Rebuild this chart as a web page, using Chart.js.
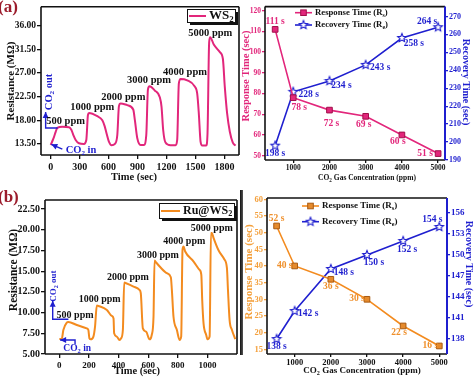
<!DOCTYPE html>
<html>
<head>
<meta charset="utf-8">
<script src="https://cdn.jsdelivr.net/npm/chart.js"></script>
<style>
  body { margin: 0; background: #fff; width: 474px; height: 377px; overflow: hidden; position: relative; }
  canvas { position: absolute; }
  .tag { position: absolute; font: bold 17px "Liberation Serif", serif; color: #9b1b2b; }
  .strip { position: absolute; left: 240px; top: 190px; width: 3px; height: 165px; background: linear-gradient(90deg, #111, #555); }
</style>
</head>
<body>
<canvas id="wsCurve" width="240" height="190" style="left:0;top:0"></canvas>
<canvas id="wsTimes" width="234" height="190" style="left:240px;top:0"></canvas>
<canvas id="ruCurve" width="240" height="187" style="left:0;top:190px"></canvas>
<canvas id="ruTimes" width="234" height="187" style="left:240px;top:190px"></canvas>
<div class="strip"></div>
<div class="tag" style="left:-2px;top:-3px">(a)</div>
<div class="tag" style="left:-2px;top:187px">(b)</div>
<script>
// ---- data ----
const wsTime = [0, 28, 52, 69, 121, 190, 214, 235, 259, 293, 345, 369, 386, 397, 483, 535, 559, 579, 603, 631,
  665, 690, 707, 724, 793, 855, 872, 897, 931, 965, 990, 1007, 1024, 1076, 1131, 1148, 1165, 1189, 1241, 1293,
  1310, 1327, 1345, 1414, 1490, 1517, 1534, 1552, 1569, 1610, 1624, 1641, 1652, 1689, 1752, 1783, 1803, 1827, 1855, 1886, 1914];
const wsRes = [13.3, 14.5, 15.8, 16.56, 16.77, 16.66, 16.2, 15.2, 14.26, 13.63, 13.5, 14.26, 19.0, 19.4, 18.78, 18.02, 16.9, 15.5, 13.94, 13.25,
  13.5, 15.2, 20.7, 21.2, 20.88, 20.06, 18.04, 14.57, 13.31, 13.31, 15.2, 23.84, 24.47, 23.7, 22.33, 20.56, 16.15, 13.76, 13.25, 13.25,
  14.26, 24.97, 25.86, 25.6, 24.47, 23.1, 19.3, 13.94, 13.19, 13.19, 15.5, 32.85, 33.8, 32.4, 30.95, 29.7, 24.34, 19.3, 15.83, 13.76, 13.19];

const ruTime = [0, 16, 27, 50, 61, 118, 185, 196, 203, 212, 230, 241, 253, 264, 321, 354, 366, 370, 388, 406,
  417, 429, 438, 451, 501, 541, 550, 564, 586, 609, 624, 636, 643, 654, 681, 726, 753, 760, 771, 794,
  812, 823, 832, 839, 850, 907, 947, 959, 965, 974, 992, 1001, 1015, 1024, 1031, 1042, 1076, 1114, 1132, 1139, 1150, 1166, 1188];
const ruRes = [6.8, 6.8, 7.9, 8.79, 8.87, 8.5, 8.1, 7.9, 6.9, 6.77, 7.1, 8.3, 10.85, 10.8, 10.32, 9.6, 9.3, 7.5, 7.1, 6.7,
  6.9, 7.9, 13.63, 13.55, 13.15, 12.74, 12.34, 8.1, 7.7, 6.77, 7.3, 9.5, 16.3, 16.05, 15.5, 14.76, 14.27, 12.74, 9.5, 7.9,
  6.7, 7.1, 17.6, 17.98, 17.38, 16.17, 15.16, 14.56, 11.53, 8.7, 7.3, 6.77, 7.1, 19.6, 19.6, 19.0, 17.5, 16.45, 15.36, 12.74, 9.1, 7.9, 6.8];

const concs = [500, 1000, 2000, 3000, 4000, 5000];
const wsResponse = [111, 78, 72, 69, 60, 51];
const wsRecovery = [198, 228, 234, 243, 258, 264];
const ruResponse = [52, 40, 36, 30, 22, 16];
const ruRecovery = [138, 142, 148, 150, 152, 154];

const ppmLabels = ['500 ppm', '1000 ppm', '2000 ppm', '3000 ppm', '4000 ppm', '5000 ppm'];

const wsTicksX = [0, 300, 600, 900, 1200, 1500, 1800];
const wsTicksY = [13.5, 18, 22.5, 27, 31.5, 36];
const ruTicksX = [0, 200, 400, 600, 800, 1000];
const ruTicksY = [5, 7.5, 10, 12.5, 15, 17.5, 20, 22.5];
const concTicks = [1000, 2000, 3000, 4000, 5000];
const wsRespTicks = [50, 60, 70, 80, 90, 100, 110, 120];
const wsRecTicks = [190, 200, 210, 220, 230, 240, 250, 260, 270];
const ruRespTicks = [15, 20, 25, 30, 35, 40, 45, 50, 55, 60];
const ruRecTicks = [138, 141, 144, 147, 150, 153, 156];

// ---- look ----
const FONT = '"Liberation Serif", "Times New Roman", serif';
const INK = '#111';
const PINK = '#e2267b';
const BLUE = '#1f1fcf';
const ORANGE = '#f38b1f';
const ORANGE_T = '#f4a03c';

function runs(str) {
  const out = [];
  const re = /_\{([^}]*)\}/g;
  let last = 0, m;
  while ((m = re.exec(str))) {
    if (m.index > last) out.push({t: str.slice(last, m.index), s: false});
    out.push({t: m[1], s: true});
    last = re.lastIndex;
  }
  if (last < str.length) out.push({t: str.slice(last), s: false});
  return out;
}

// text with _{sub} parts
function drawRich(ctx, str, x, y, size, color, align, rot) {
  const parts = runs(str);
  const fontOf = p => 'bold ' + (p.s ? size * 0.68 : size) + 'px ' + FONT;
  let w = 0;
  parts.forEach(p => { ctx.font = fontOf(p); p.w = ctx.measureText(p.t).width; w += p.w; });
  ctx.save();
  ctx.translate(x, y);
  ctx.rotate((rot || 0) * Math.PI / 180);
  let cx = align === 'center' ? -w / 2 : align === 'right' ? -w : 0;
  ctx.fillStyle = color;
  ctx.textBaseline = 'middle';
  ctx.textAlign = 'left';
  parts.forEach(p => { ctx.font = fontOf(p); ctx.fillText(p.t, cx, p.s ? size * 0.32 : 0); cx += p.w; });
  ctx.restore();
}

function seg(ctx, x1, y1, x2, y2, color, lw) {
  ctx.save();
  ctx.strokeStyle = color;
  ctx.lineWidth = lw || 1.5;
  ctx.beginPath(); ctx.moveTo(x1, y1); ctx.lineTo(x2, y2); ctx.stroke();
  ctx.restore();
}

function makeStar(r, stroke, fill) {
  const c = document.createElement('canvas');
  const s = Math.ceil(r * 2 + 3);
  c.width = c.height = s;
  const g = c.getContext('2d');
  g.beginPath();
  for (let k = 0; k < 10; k++) {
    const rr = k % 2 ? r * 0.45 : r;
    const an = -Math.PI / 2 + k * Math.PI / 5;
    const px = s / 2 + rr * Math.cos(an), py = s / 2 + rr * Math.sin(an);
    k ? g.lineTo(px, py) : g.moveTo(px, py);
  }
  g.closePath();
  g.fillStyle = fill; g.fill();
  g.strokeStyle = stroke; g.lineWidth = 1.1; g.stroke();
  return c;
}
const star = makeStar(4.5, BLUE, '#fff');

function drawMark(ctx, style, x, y, fill, stroke) {
  if (style === 'rect') {
    ctx.save();
    ctx.fillStyle = fill; ctx.strokeStyle = stroke; ctx.lineWidth = 1;
    ctx.fillRect(x - 2.8, y - 2.8, 5.6, 5.6);
    ctx.strokeRect(x - 2.8, y - 2.8, 5.6, 5.6);
    ctx.restore();
  } else {
    ctx.drawImage(style, x - style.width / 2, y - style.height / 2);
  }
}

function deco(cfg) {
  return {
    id: 'deco',
    beforeDatasetsDraw(chart) {
      const {ctx, chartArea: a} = chart;
      seg(ctx, a.left, a.top, a.right, a.top, INK, 1.6);
      seg(ctx, a.left, a.bottom, a.right, a.bottom, INK, 1.6);
      seg(ctx, a.left, a.top, a.left, a.bottom, INK, 1.6);
      seg(ctx, a.right, a.top, a.right, a.bottom, cfg.rightEdge || INK, cfg.rightEdge ? 2 : 1.6);
    },
    afterDatasetsDraw(chart) {
      const {ctx, scales} = chart;
      const px = q => [scales.x.getPixelForValue(q[0]), scales.y.getPixelForValue(q[1])];

      (cfg.arrows || []).forEach(ar => {
        const p = ar.path.map(px);
        ctx.save();
        ctx.strokeStyle = ctx.fillStyle = ar.color;
        ctx.lineWidth = 1.4;
        ctx.beginPath();
        p.forEach((q, i) => i ? ctx.lineTo(q[0], q[1]) : ctx.moveTo(q[0], q[1]));
        ctx.stroke();
        const [x1, y1] = p[p.length - 2], [x2, y2] = p[p.length - 1];
        const an = Math.atan2(y2 - y1, x2 - x1);
        const c = Math.cos(an), s = Math.sin(an);
        ctx.beginPath();
        ctx.moveTo(x2, y2);
        ctx.lineTo(x2 - 6 * c + 3 * s, y2 - 6 * s - 3 * c);
        ctx.lineTo(x2 - 6 * c - 3 * s, y2 - 6 * s + 3 * c);
        ctx.closePath(); ctx.fill();
        ctx.restore();
      });

      (cfg.notes || []).forEach(n => {
        const [x, y] = px(n.at);
        drawRich(ctx, n.text, x, y, n.size, n.color || INK, n.align || 'center', n.rot || 0);
      });

      (cfg.titles || []).forEach(t => drawRich(ctx, t.text, t.x, t.y, t.size, t.color || INK, 'center', t.rot || 0));

      (cfg.valueTags || []).forEach(vt => {
        const meta = chart.getDatasetMeta(vt.ds);
        const vals = chart.data.datasets[vt.ds].data;
        meta.data.forEach((el, i) => drawRich(ctx, vals[i].y + ' s', el.x + vt.offs[i][0], el.y + vt.offs[i][1], vt.size, vt.color, 'center', 0));
      });

      if (cfg.box) {
        const b = cfg.box;
        ctx.save();
        ctx.fillStyle = '#fff'; ctx.fillRect(b.x, b.y, b.w, b.h);
        ctx.strokeStyle = INK; ctx.lineWidth = 1;
        ctx.strokeRect(b.x + 0.5, b.y + 0.5, b.w, b.h);
        ctx.lineWidth = 2;
        ctx.beginPath();
        ctx.moveTo(b.x + b.w + 2, b.y + 3); ctx.lineTo(b.x + b.w + 2, b.y + b.h + 2); ctx.lineTo(b.x + 3, b.y + b.h + 2);
        ctx.stroke();
        ctx.restore();
        seg(ctx, b.x + 2, b.y + b.h / 2 + 0.5, b.x + 2 + b.line, b.y + b.h / 2 + 0.5, b.color, 2);
        drawRich(ctx, b.text, b.x + b.line + 5, b.y + b.h / 2, b.size, INK, 'left', 0);
      }

      if (cfg.keys) {
        const k = cfg.keys;
        k.rows.forEach((r, i) => {
          const y = k.y + i * k.gap;
          seg(ctx, k.x, y, k.x + k.len, y, r.color, 1.6);
          drawMark(ctx, r.style, k.x + k.len / 2, y, r.fill, r.stroke);
          drawRich(ctx, r.text, k.x + k.len + 3, y, k.size, INK, 'left', 0);
        });
      }
    }
  };
}

function axis(o) {
  const s = {
    type: 'linear',
    min: o.min, max: o.max,
    position: o.position,
    afterBuildTicks: sc => { sc.ticks = o.ticks.map(v => ({value: v})); },
    ticks: {
      autoSkip: false, maxRotation: 0, padding: o.pad == null ? 2 : o.pad,
      color: o.color || INK,
      font: {family: FONT, weight: 'bold', size: o.size},
      callback: o.fmt || (v => String(v))
    },
    grid: {drawOnChartArea: false, drawTicks: true, tickLength: o.tickLen || 4, color: o.color || INK, lineWidth: 1.3},
    border: {display: false}
  };
  if (o.width != null) s.afterFit = sc => { sc.width = o.width; };
  if (o.height != null) s.afterFit = sc => { sc.height = o.height; };
  return s;
}

const base = {
  animation: false,
  responsive: false,
  devicePixelRatio: 1,
  events: [],
  plugins: {legend: {display: false}, tooltip: {enabled: false}}
};

const pairs = (xs, ys) => xs.map((x, i) => ({x: x, y: ys[i]}));

// ---- (a) WS2 resistance vs time ----
new Chart(document.getElementById('wsCurve'), {
  type: 'line',
  data: {datasets: [{data: pairs(wsTime, wsRes), borderColor: PINK, borderWidth: 2, pointRadius: 0, cubicInterpolationMode: 'monotone'}]},
  options: Object.assign({}, base, {
    layout: {padding: {top: 6, right: 1, left: 0, bottom: 0}},
    scales: {
      x: axis({min: -100, max: 1950, ticks: wsTicksX, size: 10, height: 35}),
      y: axis({min: 11.4, max: 39.6, ticks: wsTicksY, size: 9.5, width: 41, pad: 1, fmt: v => v.toFixed(2)})
    }
  }),
  plugins: [deco({
    titles: [
      {text: 'Resistance (MΩ)', x: 11, y: 81, size: 11, rot: -90},
      {text: 'Time (sec)', x: 134, y: 177, size: 10.5}
    ],
    notes: [
      {text: ppmLabels[0], at: [155, 17.9], size: 10.5},
      {text: ppmLabels[1], at: [431, 20.56], size: 10.5},
      {text: ppmLabels[2], at: [753, 22.33], size: 10.5},
      {text: ppmLabels[3], at: [1019, 25.7], size: 10.5},
      {text: ppmLabels[4], at: [1391, 27.05], size: 10.5},
      {text: ppmLabels[5], at: [1653, 34.55], size: 10.5},
      {text: 'CO_{2} out', at: [-18, 23.4], size: 10.5, color: BLUE, rot: -90},
      {text: 'CO_{2} in', at: [155, 12.37], size: 10.5, color: BLUE, align: 'left'}
    ],
    arrows: [
      {path: [[72, 16.53], [-52, 16.53], [-52, 19.56]], color: BLUE},
      {path: [[121, 12.5], [7, 13.43]], color: BLUE}
    ],
    box: {text: 'WS_{2}', color: PINK, x: 187, y: 9, w: 48, h: 13, line: 17, size: 13}
  })]
});

// ---- (a) WS2 response / recovery ----
new Chart(document.getElementById('wsTimes'), {
  type: 'line',
  data: {datasets: [
    {data: pairs(concs, wsResponse), yAxisID: 'y', borderColor: PINK, borderWidth: 1.6, pointStyle: 'rect', pointRadius: 4,
     pointBackgroundColor: PINK, pointBorderColor: '#a0104a', pointBorderWidth: 1},
    {data: pairs(concs, wsRecovery), yAxisID: 'y1', borderColor: BLUE, borderWidth: 1.6, pointStyle: star, pointRadius: 5}
  ]},
  options: Object.assign({}, base, {
    layout: {padding: {top: 5, right: 0, left: 0, bottom: 0}},
    scales: {
      x: axis({min: 220, max: 5190, ticks: concTicks, size: 7.5, height: 30, tickLen: 3, pad: 1}),
      y: axis({min: 47.9, max: 122, ticks: wsRespTicks, size: 7.5, width: 25, position: 'left', color: PINK, tickLen: 3, pad: 1}),
      y1: axis({min: 190, max: 275.5, ticks: wsRecTicks, size: 8, width: 29, position: 'right', color: BLUE, tickLen: 3, pad: 1})
    }
  }),
  plugins: [deco({
    rightEdge: BLUE,
    titles: [
      {text: 'Response Time (sec)', x: 6, y: 76, size: 10.5, color: PINK, rot: -90},
      {text: 'Recovery Time (sec)', x: 226, y: 82, size: 10, color: BLUE, rot: 90},
      {text: 'CO_{2} Gas Concentration (ppm)', x: 127, y: 178, size: 7.5}
    ],
    valueTags: [
      {ds: 0, size: 9.5, color: PINK, offs: [[0, -8], [6, 10], [2, 13], [-2, 8.5], [-4, 7], [-13, 0]]},
      {ds: 1, size: 9.5, color: BLUE, offs: [[0, 8], [15.5, 3], [12, 4], [14.5, 3], [12, 6], [-11, -6]]}
    ],
    keys: {x: 55, y: 12.7, gap: 12.3, len: 17, size: 8.7, rows: [
      {text: 'Response Time (R_{s})', color: PINK, style: 'rect', fill: PINK, stroke: '#a0104a'},
      {text: 'Recovery Time (R_{e})', color: BLUE, style: star}
    ]}
  })]
});

// ---- (b) Ru@WS2 resistance vs time ----
new Chart(document.getElementById('ruCurve'), {
  type: 'line',
  data: {datasets: [{data: pairs(ruTime, ruRes), borderColor: ORANGE, borderWidth: 2, pointRadius: 0, cubicInterpolationMode: 'monotone'}]},
  options: Object.assign({}, base, {
    layout: {padding: {top: 10, right: 3, left: 0, bottom: 0}},
    scales: {
      x: axis({min: -97, max: 1200, ticks: ruTicksX, size: 9, height: 23}),
      y: axis({min: 5, max: 23.6, ticks: ruTicksY, size: 10, width: 45, pad: 1, fmt: v => v.toFixed(2)})
    }
  }),
  plugins: [deco({
    titles: [
      {text: 'Resistance (MΩ)', x: 14, y: 80, size: 11.5, rot: -90},
      {text: 'Time (sec)', x: 137, y: 181, size: 10.5}
    ],
    notes: [
      {text: ppmLabels[0], at: [106, 9.6], size: 10},
      {text: ppmLabels[1], at: [272, 11.65], size: 10},
      {text: ppmLabels[2], at: [463, 14.27], size: 10},
      {text: ppmLabels[3], at: [666, 16.9], size: 10},
      {text: ppmLabels[4], at: [844, 18.59], size: 10},
      {text: ppmLabels[5], at: [1030, 20.15], size: 10},
      {text: 'CO_{2} out', at: [-40, 13.2], size: 9, color: BLUE, rot: -90},
      {text: 'CO_{2} in', at: [27, 5.69], size: 9.5, color: BLUE, align: 'left'}
    ],
    arrows: [
      {path: [[61, 9.19], [-45, 9.19], [-45, 11.44]], color: BLUE},
      {path: [[106, 6.2], [106, 6.69], [5, 6.69]], color: BLUE}
    ],
    box: {text: 'Ru@WS_{2}', color: ORANGE, x: 159, y: 13, w: 75, h: 15, line: 19, size: 12}
  })]
});

// ---- (b) Ru@WS2 response / recovery ----
new Chart(document.getElementById('ruTimes'), {
  type: 'line',
  data: {datasets: [
    {data: pairs(concs, ruResponse), yAxisID: 'y', borderColor: ORANGE, borderWidth: 1.6, pointStyle: 'rect', pointRadius: 4,
     pointBackgroundColor: '#e58a2c', pointBorderColor: '#a85a12', pointBorderWidth: 1},
    {data: pairs(concs, ruRecovery), yAxisID: 'y1', borderColor: BLUE, borderWidth: 1.6, pointStyle: star, pointRadius: 5}
  ]},
  options: Object.assign({}, base, {
    layout: {padding: {top: 8, right: 0, left: 0, bottom: 0}},
    scales: {
      x: axis({min: 235, max: 5213, ticks: concTicks, size: 8.5, height: 23, tickLen: 3, pad: 1}),
      y: axis({min: 13.59, max: 60.39, ticks: ruRespTicks, size: 8.5, width: 27, position: 'left', color: ORANGE_T, tickLen: 3, pad: 1}),
      y1: axis({min: 135.86, max: 158.14, ticks: ruRecTicks, size: 9, width: 27, position: 'right', color: BLUE, tickLen: 3, pad: 1})
    }
  }),
  plugins: [deco({
    rightEdge: BLUE,
    titles: [
      {text: 'Response Time (sec)', x: 9, y: 82, size: 11, color: ORANGE_T, rot: -90},
      {text: 'Recovery Time (sec)', x: 229, y: 74, size: 10, color: BLUE, rot: 90},
      {text: 'CO_{2} Gas Concentration (ppm)', x: 122, y: 181, size: 9}
    ],
    valueTags: [
      {ds: 0, size: 9.5, color: '#ef8f2a', offs: [[0, -7], [-10, 0], [0, 7.5], [-10, -1], [-4, 7], [-9, 0]]},
      {ds: 1, size: 9.5, color: BLUE, offs: [[0, 7.5], [13.5, 3], [13, 4], [7, 8], [4, 9], [-7, -7]]}
    ],
    keys: {x: 62, y: 16, gap: 15.7, len: 17, size: 9, rows: [
      {text: 'Response Time (R_{s})', color: ORANGE, style: 'rect', fill: '#e58a2c', stroke: '#a85a12'},
      {text: 'Recovery Time (R_{e})', color: BLUE, style: star}
    ]}
  })]
});
</script>
</body>
</html>
